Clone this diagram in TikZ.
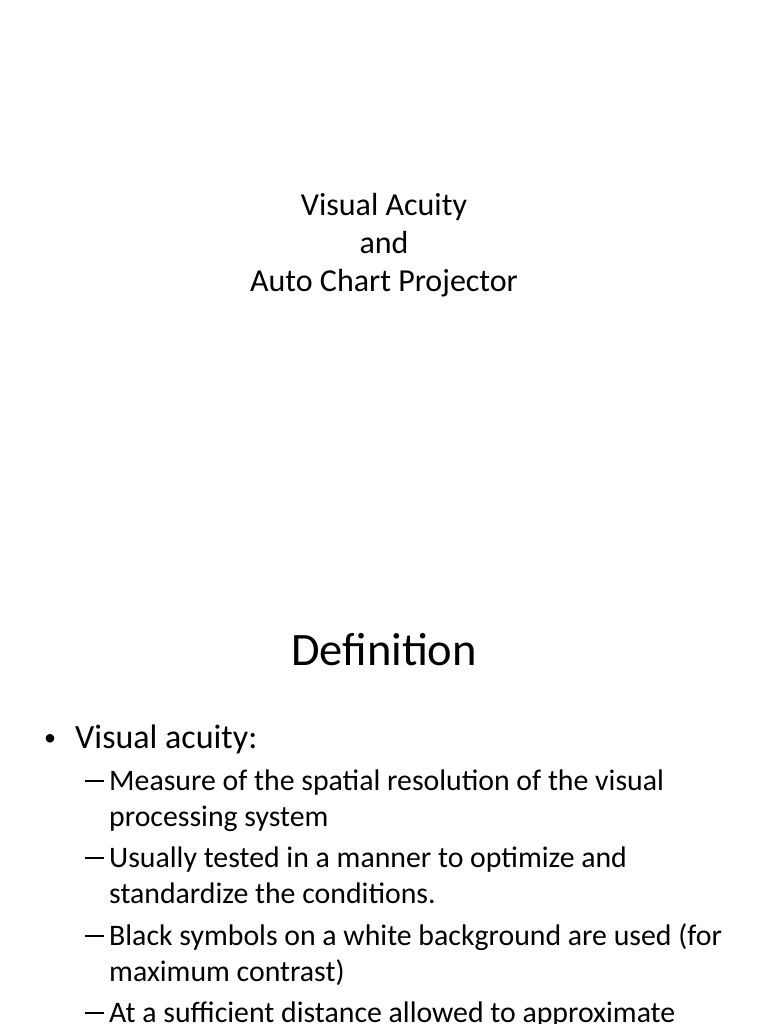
\documentclass[tikz,border=0pt]{standalone}
\usepackage{fontspec}
\setmainfont{Carlito}
\begin{document}
\begin{tikzpicture}[x=1pt,y=-1pt,
  ttl/.style={font=\fontsize{32}{36}\selectfont,anchor=base,inner sep=0},
  lvl1/.style={font=\fontsize{34}{40}\selectfont,anchor=base west,inner sep=0},
  lvl2/.style={font=\fontsize{29.8}{34}\selectfont,anchor=base west,inner sep=0},
  dashmark/.style={fill=black,draw=none,minimum width=19pt,minimum height=2.6pt,inner sep=0}]
\useasboundingbox (0,0) rectangle (768,1024);
\clip (0,0) rectangle (768,1024);
\node[ttl] (t1) at (384,215) {Visual Acuity};
\node[ttl] (t2) at (384,253) {and};
\node[ttl] (t3) at (384,291) {Auto Chart Projector};
\node[font=\fontsize{46.5}{52}\selectfont,anchor=base,inner sep=0] (def) at (384,665) {Definition};
\node[font=\fontsize{24}{28}\selectfont,anchor=base west,inner sep=0] (b0) at (44,745) {•};
\node[lvl1] (b1) at (75,748) {Visual acuity:};
\node[dashmark] (d1) at (94.5,781) {};
\node[lvl2] (s1) at (109,790) {Measure of the spatial resolution of the visual};
\node[lvl2] (s1b) at (109,826) {processing system};
\node[dashmark] (d2) at (94.5,858) {};
\node[lvl2] (s2) at (109,867) {Usually tested in a manner to optimize and};
\node[lvl2] (s2b) at (109,903) {standardize the conditions.};
\node[dashmark] (d3) at (94.5,936) {};
\node[lvl2] (s3) at (109,945) {Black symbols on a white background are used (for};
\node[lvl2] (s3b) at (109,981) {maximum contrast)};
\node[dashmark] (d4) at (94.5,1013) {};
\node[lvl2] (s4) at (109,1022) {At a sufficient distance allowed to approximate};
\end{tikzpicture}
\end{document}
